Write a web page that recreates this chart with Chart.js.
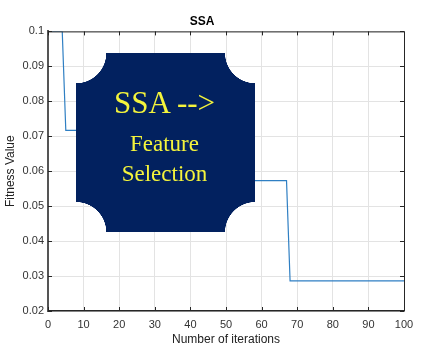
<!DOCTYPE html>
<html lang="en">
  <head>
    <meta charset="UTF-8" />
    <title>SSA</title>
    <script src="https://cdn.jsdelivr.net/npm/chart.js"></script>
    <style>
      body {
        margin: 0;
        background: #fff;
      }
      .wrap {
        position: relative;
        width: 423px;
        height: 348px;
      }
      .badge {
        position: absolute;
        left: 76px;
        top: 53px;
        width: 179px;
        height: 179px;
        --r: 30px;
        --c: #02215f;
        background:
          radial-gradient(circle at top left, transparent var(--r), var(--c) calc(var(--r) + 0.5px)) top left / 51% 51% no-repeat,
          radial-gradient(circle at top right, transparent var(--r), var(--c) calc(var(--r) + 0.5px)) top right / 51% 51% no-repeat,
          radial-gradient(circle at bottom left, transparent var(--r), var(--c) calc(var(--r) + 0.5px)) bottom left / 51% 51% no-repeat,
          radial-gradient(circle at bottom right, transparent var(--r), var(--c) calc(var(--r) + 0.5px)) bottom right / 51% 51% no-repeat;
        font-family: "Liberation Serif", "Times New Roman", serif;
        color: #f4f43c;
      }
      .badge div {
        position: absolute;
        left: 0;
        width: 177px;
        text-align: center;
        line-height: 1;
        white-space: nowrap;
      }
      .big {
        top: 34px;
        font-size: 31px;
      }
      .line1 {
        top: 79px;
        font-size: 23px;
      }
      .line2 {
        top: 109px;
        font-size: 23px;
      }
    </style>
  </head>
  <body>
    <div class="wrap">
      <canvas id="fitnessChart" width="423" height="348"></canvas>
      <div class="badge">
        <div class="big">SSA --&gt;</div>
        <div class="line1">Feature</div>
        <div class="line2">Selection</div>
      </div>
    </div>
    <script>
      // iterations where the curve changes (flat between them)
      const iterations = [1, 4, 5, 30, 31, 67, 68, 100];
      const fitness = [0.1, 0.1, 0.0717, 0.0717, 0.0573, 0.0573, 0.0286, 0.0286];

      const xTicks = [0, 10, 20, 30, 40, 50, 60, 70, 80, 90, 100];
      const yTicks = [0.02, 0.03, 0.04, 0.05, 0.06, 0.07, 0.08, 0.09, 0.1];

      const axisColor = "#262626";

      // top/right edges of the box plus inward tick marks, matlab style
      const boxPlugin = {
        id: "box",
        afterDraw(chart) {
          const { ctx, chartArea, scales } = chart;
          const { left, right, top, bottom } = chartArea;
          ctx.save();
          ctx.strokeStyle = axisColor;
          ctx.lineWidth = 1;
          ctx.beginPath();
          ctx.moveTo(left, top + 0.5);
          ctx.lineTo(right + 0.5, top + 0.5);
          ctx.lineTo(right + 0.5, bottom);
          ctx.stroke();

          ctx.beginPath();
          xTicks.forEach((v) => {
            const px = Math.round(scales.x.getPixelForValue(v)) + 0.5;
            ctx.moveTo(px, bottom);
            ctx.lineTo(px, bottom - 4);
            ctx.moveTo(px, top);
            ctx.lineTo(px, top + 4);
          });
          yTicks.forEach((v) => {
            const py = Math.round(scales.y.getPixelForValue(v)) + 0.5;
            ctx.moveTo(left, py);
            ctx.lineTo(left + 4, py);
            ctx.moveTo(right, py);
            ctx.lineTo(right - 4, py);
          });
          ctx.stroke();
          ctx.restore();
        },
      };

      const ctx = document.getElementById("fitnessChart").getContext("2d");
      new Chart(ctx, {
        type: "line",
        data: {
          datasets: [
            {
              data: iterations.map((it, i) => ({ x: it, y: fitness[i] })),
              borderColor: "#2f7fc3",
              borderWidth: 1.2,
              pointRadius: 0,
              tension: 0,
              fill: false,
            },
          ],
        },
        options: {
          responsive: false,
          animation: false,
          layout: { padding: { left: 0, right: 19, top: 0, bottom: 0 } },
          plugins: {
            legend: { display: false },
            tooltip: { enabled: false },
            title: {
              display: true,
              text: "SSA",
              color: "#000",
              font: { family: "Liberation Sans, Arial", size: 12, weight: "bold" },
              padding: { top: 14, bottom: 3 },
            },
          },
          scales: {
            x: {
              type: "linear",
              min: 0,
              max: 100,
              afterFit: (scale) => {
                scale.height = 37;
              },
              afterBuildTicks: (scale) => {
                scale.ticks = xTicks.map((v) => ({ value: v }));
              },
              ticks: {
                color: "#333",
                font: { family: "Liberation Sans, Arial", size: 11 },
                padding: 7,
                maxRotation: 0,
              },
              grid: { color: "#e3e3e3", drawTicks: false },
              border: { color: axisColor, width: 1.5 },
              title: {
                display: true,
                text: "Number of iterations",
                color: "#222",
                font: { family: "Liberation Sans, Arial", size: 12 },
                padding: { top: 0, bottom: 1 },
              },
            },
            y: {
              min: 0.02,
              max: 0.1,
              afterFit: (scale) => {
                scale.width = 48;
              },
              afterBuildTicks: (scale) => {
                scale.ticks = yTicks.map((v) => ({ value: v }));
              },
              ticks: {
                color: "#333",
                font: { family: "Liberation Sans, Arial", size: 11 },
                padding: 4,
                callback: (v) => parseFloat(v.toFixed(2)).toString(),
              },
              grid: { color: "#e3e3e3", drawTicks: false },
              border: { color: "#555", width: 2 },
              title: {
                display: true,
                text: "Fitness Value",
                color: "#222",
                font: { family: "Liberation Sans, Arial", size: 12 },
                padding: { top: 3, bottom: 0 },
              },
            },
          },
        },
        plugins: [boxPlugin],
      });
    </script>
  </body>
</html>
